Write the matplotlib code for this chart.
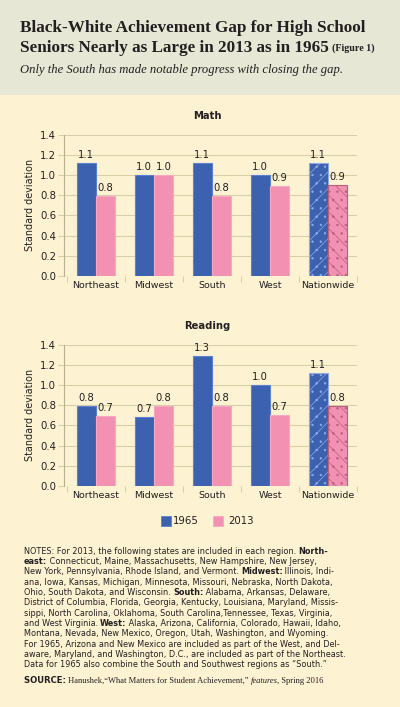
import matplotlib
matplotlib.use("Agg")
import matplotlib.pyplot as plt
import numpy as np

# ---- data ----
regions = ["Northeast", "Midwest", "South", "West", "Nationwide"]
years = ["1965", "2013"]
math_1965 = [1.12, 1.00, 1.12, 1.00, 1.12]
math_2013 = [0.79, 1.00, 0.79, 0.89, 0.90]
math_lbl_1965 = ["1.1", "1.0", "1.1", "1.0", "1.1"]
math_lbl_2013 = ["0.8", "1.0", "0.8", "0.9", "0.9"]
read_1965 = [0.79, 0.68, 1.29, 1.00, 1.12]
read_2013 = [0.69, 0.79, 0.79, 0.70, 0.79]
read_lbl_1965 = ["0.8", "0.7", "1.3", "1.0", "1.1"]
read_lbl_2013 = ["0.7", "0.8", "0.8", "0.7", "0.8"]
yticks = [0.0, 0.2, 0.4, 0.6, 0.8, 1.0, 1.2, 1.4]

W, H = 400, 707
BLUE = "#3c61ae"
BLUE_EDGE = "#5b80d4"
PINK = "#f291b2"
PINK_EDGE = "#f7a9c4"
CREAM = "#fdf3d2"
HEADER = "#e6e7d5"
GRID = "#d8cfa8"
TXT = "#231f20"

fig = plt.figure(figsize=(W / 100, H / 100), dpi=100)
fig.patch.set_facecolor(CREAM)

def fx(x):
    return x / W

def fy(y):
    return 1 - y / H

# header band
fig.patches.append(plt.Rectangle((0, fy(95)), 1, 95 / H, transform=fig.transFigure,
                                 facecolor=HEADER, edgecolor="none", zorder=0))

SERIF = "Liberation Serif"
SANS = "DejaVu Sans"

fig.text(fx(20), fy(27.5), "Black-White Achievement Gap for High School", family=SERIF,
         weight="bold", fontsize=12.3, color=TXT, va="center", ha="left")
t2 = fig.text(fx(20), fy(47.5), "Seniors Nearly as Large in 2013 as in 1965", family=SERIF,
              weight="bold", fontsize=12.3, color=TXT, va="center", ha="left")
fig.canvas.draw()
renderer = fig.canvas.get_renderer()
bb = t2.get_window_extent(renderer)
fig.text(bb.x1 / W + fx(3), fy(48.5), "(Figure 1)", family=SERIF, weight="bold",
         fontsize=7.2, color=TXT, va="center", ha="left")
fig.text(fx(20), fy(70), "Only the South has made notable progress with closing the gap.",
         family=SERIF, style="italic", fontsize=9.1, color=TXT, va="center", ha="left")

matplotlib.rcParams["hatch.linewidth"] = 0.5


def draw_panel(top_px, bottom_px, title, title_y, v65, v13, l65, l13):
    ax = fig.add_axes([fx(64), fy(bottom_px), fx(357 - 64), (bottom_px - top_px) / H])
    ax.set_facecolor("none")
    x = np.arange(len(regions))
    w = 0.333
    b1 = ax.bar(x - w / 2, v65, w, color=BLUE, edgecolor=BLUE_EDGE, linewidth=0.8, zorder=3)
    b2 = ax.bar(x + w / 2, v13, w, color=PINK, edgecolor=PINK_EDGE, linewidth=0.8, zorder=3)
    # textured national bars
    b1[-1].set_hatch("//..")
    b1[-1].set_edgecolor("#8fa9e6")
    b2[-1].set_hatch("\\\\..")
    b2[-1].set_edgecolor("#b9607f")
    for i in range(len(regions)):
        ax.text(x[i] - w / 2, v65[i] + 0.03, l65[i], ha="center", va="bottom",
                fontsize=7.2, color=TXT, family=SANS)
        ax.text(x[i] + w / 2, v13[i] + 0.03, l13[i], ha="center", va="bottom",
                fontsize=7.2, color=TXT, family=SANS)
    ax.set_ylim(0, 1.4)
    ax.set_xlim(-0.55, 4.45)
    ax.set_yticks(yticks)
    ax.set_yticklabels([f"{v:.1f}" for v in yticks], fontsize=7.3, color=TXT, family=SANS)
    ax.yaxis.grid(True, color=GRID, linewidth=0.8, zorder=0)
    ax.set_axisbelow(True)
    ax.tick_params(axis="y", length=4, color=GRID, pad=1.5)
    ax.set_xticks(np.arange(-0.5, 4.6, 1.0))
    ax.set_xticklabels([])
    ax.set_xticks(x, minor=True)
    ax.set_xticklabels(regions, minor=True, fontsize=6.8, color=TXT, family=SANS)
    ax.tick_params(axis="x", which="major", length=4, color=GRID)
    ax.tick_params(axis="x", which="minor", length=0, pad=4)
    for s in ["top", "right", "bottom"]:
        ax.spines[s].set_visible(False)
    ax.spines["left"].set_color("#b8b08f")
    ax.spines["left"].set_linewidth(0.8)
    ax.set_ylabel("Standard deviation", fontsize=6.9, color=TXT, family=SANS, labelpad=4)
    fig.text(fx(207), fy(title_y), title, ha="center", va="center", fontsize=7.2,
             weight="bold", color=TXT, family=SANS)
    return ax

draw_panel(135, 275.7, "Math", 115.7, math_1965, math_2013, math_lbl_1965, math_lbl_2013)
draw_panel(345, 485.7, "Reading", 325.7, read_1965, read_2013, read_lbl_1965, read_lbl_2013)

# legend
fig.patches.append(plt.Rectangle((fx(161), fy(525.5)), fx(9.5), 9.5 / H, transform=fig.transFigure,
                                 facecolor=BLUE, edgecolor=BLUE_EDGE, linewidth=0.6))
fig.text(fx(173), fy(521.5), years[0], fontsize=7.3, color=TXT, family=SANS, va="center")
fig.patches.append(plt.Rectangle((fx(213), fy(525.5)), fx(9.5), 9.5 / H, transform=fig.transFigure,
                                 facecolor=PINK, edgecolor=PINK_EDGE, linewidth=0.6))
fig.text(fx(228), fy(521.5), years[1], fontsize=7.3, color=TXT, family=SANS, va="center")

# notes
B = "bold"
N = "normal"
notes = [
    [("NOTES: For 2013, the following states are included in each region. ", N), ("North-", B)],
    [("east:", B), (" Connecticut, Maine, Massachusetts, New Hampshire, New Jersey,", N)],
    [("New York, Pennsylvania, Rhode Island, and Vermont. ", N), ("Midwest:", B), (" Illinois, Indi-", N)],
    [("ana, Iowa, Kansas, Michigan, Minnesota, Missouri, Nebraska, North Dakota,", N)],
    [("Ohio, South Dakota, and Wisconsin. ", N), ("South:", B), (" Alabama, Arkansas, Delaware,", N)],
    [("District of Columbia, Florida, Georgia, Kentucky, Louisiana, Maryland, Missis-", N)],
    [("sippi, North Carolina, Oklahoma, South Carolina,Tennessee, Texas, Virginia,", N)],
    [("and West Virginia. ", N), ("West:", B), (" Alaska, Arizona, California, Colorado, Hawaii, Idaho,", N)],
    [("Montana, Nevada, New Mexico, Oregon, Utah, Washington, and Wyoming.", N)],
    [("For 1965, Arizona and New Mexico are included as part of the West, and Del-", N)],
    [("aware, Maryland, and Washington, D.C., are included as part of the Northeast.", N)],
    [("Data for 1965 also combine the South and Southwest regions as \u201cSouth.\u201d", N)],
]

fig.canvas.draw()
renderer = fig.canvas.get_renderer()


def draw_line(x_px, y_px, segs, size, family, trim=0.5):
    xcur = x_px
    for seg in segs:
        txt, wt = seg[0], seg[1]
        fam = seg[2] if len(seg) > 2 else family
        sty = seg[3] if len(seg) > 3 else "normal"
        t = fig.text(fx(xcur), fy(y_px), txt, fontsize=size, weight=wt, family=fam,
                     style=sty, color=TXT, va="baseline", ha="left")
        bbx = t.get_window_extent(renderer)
        xcur += bbx.width - trim
    return xcur

for i, line in enumerate(notes):
    draw_line(24, 553.5 + i * 10.36, line, 5.9, SANS)

draw_line(24, 683, [("SOURCE: ", B, SANS),
                    ("Hanushek,\u201cWhat Matters for Student Achievement,\u201d ", N, SERIF),
                    ("features", N, SERIF, "italic"),
                    (", Spring 2016", N, SERIF)], 6.1, SANS)

fig.savefig("out.png", dpi=100, facecolor=fig.get_facecolor())
